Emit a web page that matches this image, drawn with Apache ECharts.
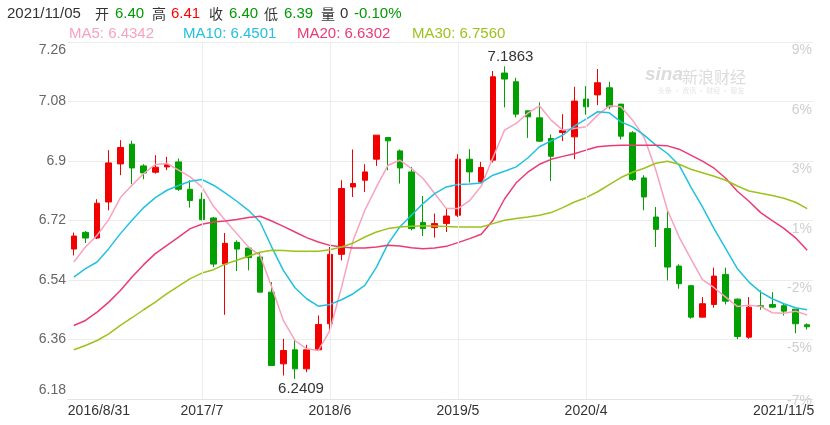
<!DOCTYPE html>
<html><head><meta charset="utf-8">
<script src="https://cdn.jsdelivr.net/npm/echarts@6/dist/echarts.min.js"></script>
<style>html,body{margin:0;padding:0;background:#fff}#c{width:830px;height:425px}</style>
</head><body><div id="c"></div>
<script>
const categories = ['2016/8/31','2016/9','2016/10','2016/11','2016/12','2017/1','2017/2','2017/3','2017/4','2017/5','2017/6','2017/7',
'2017/8','2017/9','2017/10','2017/11','2017/12','2018/1','2018/2','2018/3','2018/4','2018/5','2018/6',
'2018/7','2018/8','2018/9','2018/10','2018/11','2018/12','2019/1','2019/2','2019/3','2019/4','2019/5',
'2019/6','2019/7','2019/8','2019/9','2019/10','2019/11','2019/12','2020/1','2020/2','2020/3','2020/4',
'2020/5','2020/6','2020/7','2020/8','2020/9','2020/10','2020/11','2020/12','2021/1','2021/2','2021/3',
'2021/4','2021/5','2021/6','2021/7','2021/8','2021/9','2021/10','2021/11/5'];
const opens  = [6.6336,6.6842,6.6670,6.7761,6.8912,6.9509,6.8852,6.8660,6.8821,6.8973,6.8145,6.7842,6.7276,6.5882,6.6539,6.6367,6.6094,6.5033,6.2864,6.3288,6.2712,6.3288,6.4076,6.6176,6.8215,6.8418,6.9055,6.9712,6.9306,6.8670,6.7136,6.6985,6.7106,6.7358,6.9055,6.8367,6.9024,7.1661,7.1397,7.0518,7.0306,6.9682,6.9864,6.9730,7.0873,7.1000,7.1215,7.0721,6.9852,6.8488,6.7306,6.6955,6.5821,6.5227,6.4276,6.4661,6.5570,6.4821,6.3670,6.4620,6.4661,6.4621,6.4518,6.4045];
const closes = [6.6730,6.6670,6.7721,6.8942,6.9409,6.8790,6.8640,6.8812,6.8894,6.8145,6.7803,6.7227,6.5882,6.6509,6.6336,6.6076,6.5033,6.2812,6.3267,6.2712,6.3288,6.4055,6.6176,6.8167,6.8318,6.8670,6.9782,6.9609,6.8790,6.6955,6.6955,6.7106,6.7336,6.9055,6.8670,6.8803,7.1548,7.1479,7.0418,7.0336,6.9600,6.9145,6.9924,7.0812,7.0640,7.1367,7.0640,6.9752,6.8440,6.7912,6.6933,6.5791,6.5288,6.4276,6.4682,6.5518,6.4760,6.3691,6.4579,6.4600,6.4579,6.4458,6.4076,6.3985];
const lows   = [6.6145,6.6518,6.6640,6.7509,6.8570,6.8297,6.8448,6.8620,6.8721,6.8094,6.7590,6.7206,6.5791,6.4348,6.5670,6.5691,6.5033,6.2812,6.2509,6.2409,6.2609,6.3267,6.3852,6.5994,6.7912,6.8064,6.8852,6.8721,6.8318,6.6903,6.6730,6.6682,6.6852,6.7306,6.8348,6.8348,6.8955,7.0621,7.0318,6.9700,6.9579,6.8397,6.9600,6.9055,7.0400,7.0691,7.0570,6.9652,6.8397,6.7509,6.6397,6.5388,6.5136,6.4227,6.4276,6.4561,6.4661,6.3609,6.3621,6.4500,6.4560,6.4327,6.3790,6.3903];
const highs  = [6.6833,6.6882,6.7842,6.9327,6.9630,6.9610,6.8903,6.9176,6.9124,6.9076,6.8418,6.8045,6.7306,6.6821,6.6600,6.6418,6.6245,6.5336,6.3621,6.3591,6.3440,6.4327,6.6397,6.8418,6.9348,6.8903,6.9782,6.9712,6.9348,6.8821,6.7942,6.7409,6.7560,6.9206,6.9358,6.8973,7.1721,7.1863,7.1518,7.0518,7.0773,6.9803,7.0418,7.1245,7.1267,7.1782,7.1397,7.0721,6.9903,6.8570,6.7609,6.7488,6.5873,6.5245,6.4882,6.5773,6.5773,6.4842,6.4882,6.5085,6.5033,6.4682,6.4518,6.4087];
const ma5  = [6.5945,6.6397,6.6752,6.7227,6.7894,6.8267,6.8621,6.8894,6.8924,6.8721,6.8518,6.8215,6.7630,6.7206,6.6803,6.6397,6.6145,6.5185,6.4176,6.3570,6.3318,6.3267,6.3873,6.5185,6.6600,6.7509,6.8215,6.8873,6.9024,6.8773,6.8470,6.8015,6.7560,6.7560,6.7800,6.8240,6.9100,6.9933,7.0136,7.0450,7.0670,7.0236,6.9933,6.9985,7.0033,7.0388,7.0670,7.0640,7.0236,6.9712,6.8721,6.7509,6.6700,6.6045,6.5409,6.5166,6.4882,6.4600,6.4640,6.4600,6.4409,6.4397,6.4458,6.4342];
const ma10 = [6.5488,6.5742,6.5945,6.6348,6.6803,6.7206,6.7590,6.7894,6.8115,6.8258,6.8388,6.8439,6.8267,6.8033,6.7782,6.7509,6.7155,6.6397,6.5690,6.5166,6.4833,6.4609,6.4661,6.4803,6.4985,6.5236,6.5791,6.6500,6.7003,6.7358,6.7712,6.8015,6.8215,6.8288,6.8306,6.8336,6.8570,6.8691,6.8821,6.9090,6.9430,6.9610,6.9780,7.0055,7.0267,7.0490,7.0458,7.0185,7.0033,6.9782,6.9479,6.9227,6.8873,6.8215,6.7609,6.6955,6.6348,6.5742,6.5336,6.5033,6.4833,6.4682,6.4560,6.4501];
const ma20 = [6.4024,6.4176,6.4427,6.4730,6.5085,6.5488,6.5864,6.6197,6.6448,6.6700,6.6955,6.7085,6.7155,6.7185,6.7227,6.7288,6.7327,6.7185,6.7024,6.6852,6.6682,6.6548,6.6448,6.6397,6.6367,6.6367,6.6397,6.6448,6.6427,6.6376,6.6348,6.6367,6.6418,6.6530,6.6651,6.6782,6.7200,6.7850,6.8340,6.8660,6.8900,6.9050,6.9140,6.9220,6.9330,6.9430,6.9465,6.9475,6.9479,6.9479,6.9479,6.9458,6.9358,6.9176,6.8994,6.8782,6.8479,6.8085,6.7782,6.7439,6.7197,6.6964,6.6676,6.6302];
const ma30 = [6.3288,6.3418,6.3570,6.3773,6.4024,6.4258,6.4500,6.4730,6.4985,6.5215,6.5440,6.5610,6.5712,6.5880,6.6000,6.6120,6.6240,6.6300,6.6290,6.6267,6.6267,6.6267,6.6318,6.6397,6.6518,6.6700,6.6852,6.6955,6.7003,6.7024,6.7033,6.7033,6.7015,6.7003,6.7003,6.7003,6.7106,6.7206,6.7258,6.7306,6.7358,6.7439,6.7590,6.7761,6.7890,6.8070,6.8285,6.8500,6.8660,6.8782,6.8933,6.8994,6.8903,6.8752,6.8645,6.8539,6.8418,6.8245,6.8094,6.8024,6.7955,6.7873,6.7752,6.7560];
const leftTicks  = ['6.18','6.36','6.54','6.72','6.9','7.08','7.26'];
const rightTicks = ['-7%','-5%','-2%','1%','3%','6%','9%'];
const xLabelIdx  = [0, 11, 22, 33, 44, 63];
const vLineIdx   = [11, 22, 33, 44];
const headerTokens = [
  ['2021/11/05', 7, 'd'], ['开', 95, 'c'], ['6.40', 115, 'g'], ['高', 152, 'c'], ['6.41', 171, 'r'],
  ['收', 209, 'c'], ['6.40', 229, 'g'], ['低', 264, 'c'], ['6.39', 284, 'g'], ['量', 321, 'c'],
  ['0', 340, 'd'], ['-0.10%', 354, 'g']
];
const maNames  = ['MA5', 'MA10', 'MA20', 'MA30'];
const maLast   = ['6.4342', '6.4501', '6.6302', '6.7560'];
const maColors = ['#f7a3bd', '#22c1e0', '#ec3b73', '#9dc21c'];
const maLegendX = [69, 183, 297, 412];

const FONT = '"Liberation Sans", Arial, "Noto Sans CJK SC", sans-serif';
const RED = '#f20000', GREEN = '#00a000';
const candleData = categories.map((c, i) => [opens[i], closes[i], lows[i], highs[i]]);
let maxIdx = 0, minIdx = 0;
highs.forEach((h, i) => { if (h > highs[maxIdx]) maxIdx = i; });
lows.forEach((l, i) => { if (l < lows[minIdx]) minIdx = i; });

const tokenColor = { d: '#333', c: '#333', g: '#009a00', r: '#f00' };
const graphics = headerTokens.map(t => ({
  type: 'text', x: t[1], y: 14,
  style: { text: t[0], fill: tokenColor[t[2]], font: (t[2] === 'c' ? '14px "Noto Sans CJK SC"' : '15px ' + FONT), verticalAlign: 'middle' }
}));
maNames.forEach((n, i) => graphics.push({
  type: 'text', x: maLegendX[i], y: 34,
  style: { text: n + ': ' + maLast[i], fill: maColors[i], font: '15px ' + FONT, verticalAlign: 'middle' }
}));
graphics.push({ type: 'text', x: 645, y: 75, z: 0, style: { text: 'sina', fill: '#dcdcdc', font: 'italic bold 19px ' + FONT, verticalAlign: 'middle' } });
graphics.push({ type: 'text', x: 682, y: 77, z: 0, style: { text: '新浪财经', fill: '#dcdcdc', font: '16px "Noto Sans CJK SC"', verticalAlign: 'middle' } });
graphics.push({ type: 'text', x: 658, y: 90, z: 0, style: { text: '头条 · 资讯 · 财经 · 股友', fill: '#e4e4e4', font: '7px "Noto Sans CJK SC"', verticalAlign: 'middle' } });

const maSeries = [ma5, ma10, ma20, ma30].map((d, i) => ({
  name: maNames[i], type: 'line', data: d, yAxisIndex: 0, showSymbol: false, symbol: 'none',
  lineStyle: { color: maColors[i], width: 1.5 }, itemStyle: { color: maColors[i] }, silent: true, z: 3, animation: false
}));

const option = {
  animation: false,
  textStyle: { fontFamily: FONT },
  grid: { left: 68, right: 17, top: 42, bottom: 26 },
  xAxis: {
    type: 'category', data: categories, boundaryGap: true,
    axisLine: { lineStyle: { color: '#e3e3e3' } }, axisTick: { show: false },
    splitLine: { show: false },
    axisLabel: {
      color: '#333', fontSize: 14, margin: 5,
      interval: (idx) => xLabelIdx.includes(idx),
      formatter: (v, idx) => idx === 0 ? '{l|' + v + '}' : (idx === categories.length - 1 ? '{r|' + v + '}' : v),
      rich: {
        l: { width: 12, align: 'left', color: '#333', fontSize: 14 },
        r: { width: 14, align: 'right', color: '#333', fontSize: 14 }
      }
    }
  },
  yAxis: [
    { type: 'value', min: 6.18, max: 7.26, show: false, splitLine: { show: false } },
    { type: 'value', min: 0, max: 6, interval: 1, position: 'left',
      axisLine: { show: false }, axisTick: { show: false },
      splitLine: { lineStyle: { color: '#ececec' } },
      axisLabel: { color: '#666', fontSize: 14, lineHeight: 17, margin: 2, formatter: (v) => leftTicks[v],
        verticalAlignMinLabel: 'bottom', verticalAlignMaxLabel: 'top' } },
    { type: 'value', min: 0, max: 6, interval: 1, position: 'right',
      axisLine: { show: false }, axisTick: { show: false }, splitLine: { show: false },
      axisLabel: { inside: true, color: '#cfcfcf', fontSize: 14, lineHeight: 17, margin: 1, verticalAlign: 'top',
        formatter: (v) => v === 0 ? '{m|' + rightTicks[v] + '}' : rightTicks[v],
        rich: { m: { color: '#cfcfcf', fontSize: 14, lineHeight: 17, padding: [5, 0, 0, 0] } },
        verticalAlignMinLabel: 'middle' } }
  ],
  graphic: graphics,
  series: [
    { type: 'line', data: [], yAxisIndex: 0, z: 1, silent: true,
      markLine: { silent: true, symbol: ['none', 'none'], label: { show: false }, animation: false,
        lineStyle: { color: '#ececec', width: 1, type: 'solid' },
        data: vLineIdx.map(i => ({ xAxis: categories[i] })) } },
    { type: 'candlestick', data: candleData, yAxisIndex: 0, barWidth: 6, z: 2,
      itemStyle: { color: RED, color0: GREEN, borderColor: RED, borderColor0: GREEN, borderWidth: 1 },
      markPoint: { symbol: 'circle', symbolSize: 0, animation: false,
        label: { color: '#333', fontSize: 15 },
        data: [
          { coord: [categories[maxIdx], highs[maxIdx]], value: highs[maxIdx],
            label: { position: 'top', distance: 2, offset: [6, 0], formatter: highs[maxIdx].toFixed(4) } },
          { coord: [categories[minIdx], lows[minIdx]], value: lows[minIdx],
            label: { position: 'bottom', distance: 2, offset: [6, 0], formatter: lows[minIdx].toFixed(4) } }
        ] } }
  ].concat(maSeries)
};
const chart = echarts.init(document.getElementById('c'), null, { renderer: 'canvas' });
chart.setOption(option);
</script></body></html>
